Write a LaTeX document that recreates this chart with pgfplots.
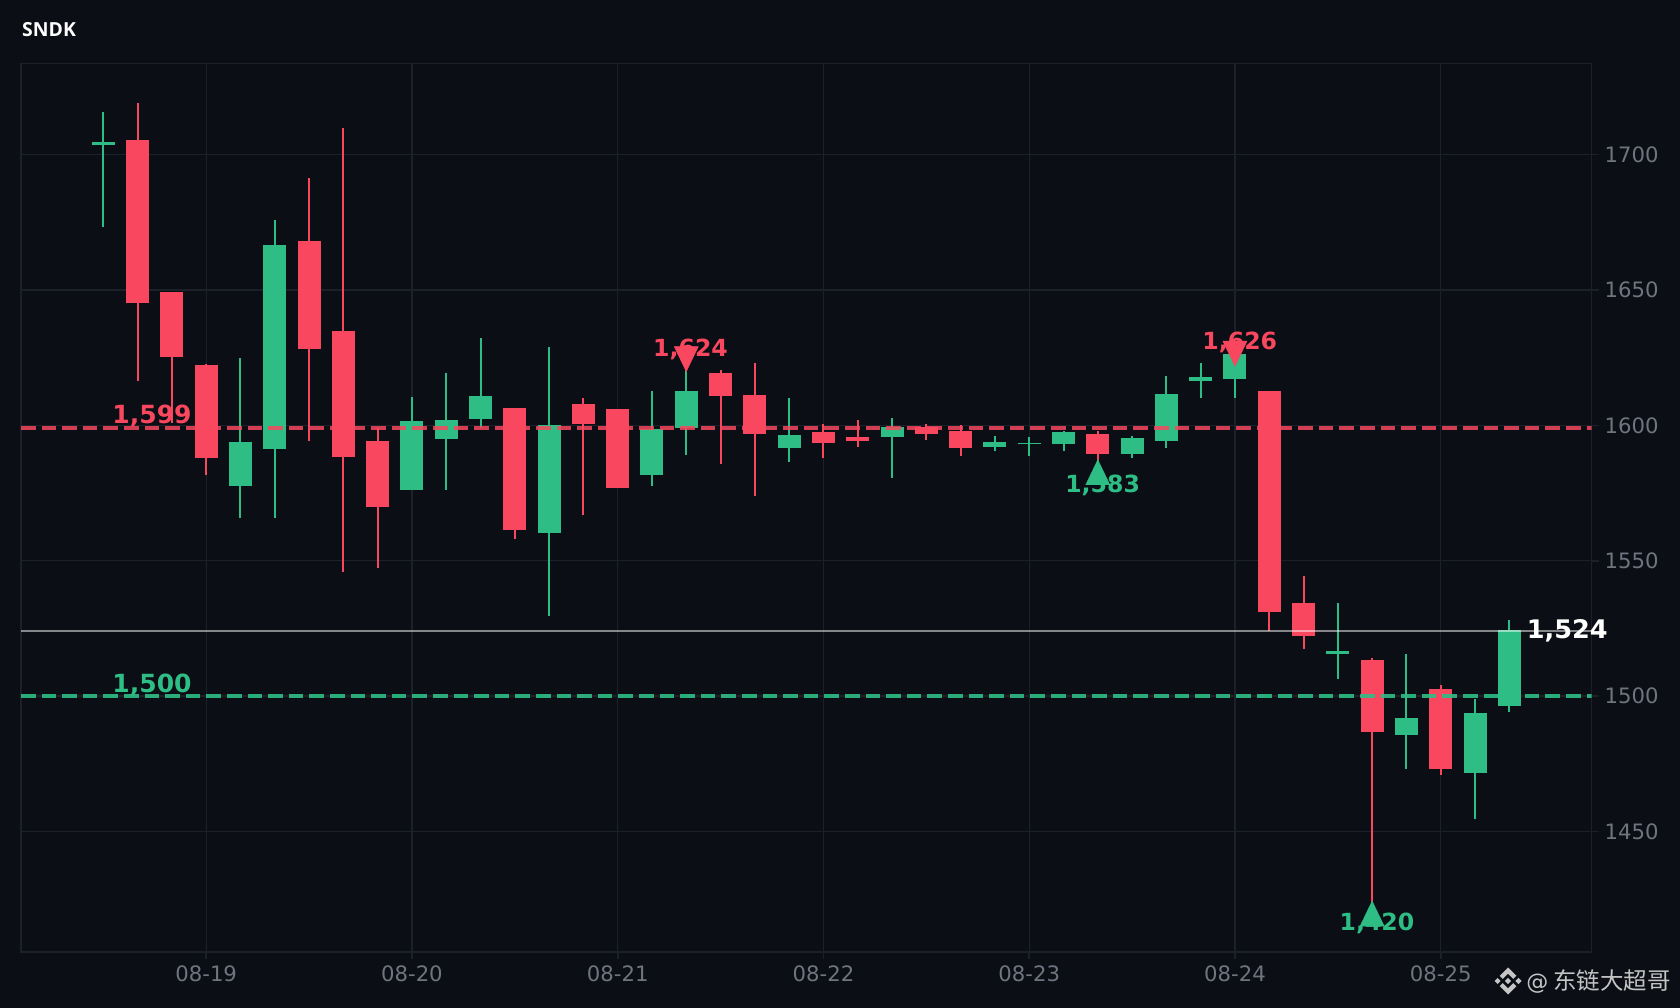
\documentclass[border=0pt]{standalone}
\usepackage{fontspec}
\usepackage{pgfplots}
\usepackage{pgfplotstable}
\pgfplotsset{compat=1.18}
\setmainfont{DejaVu Sans}
\newfontfamily\cjk{Noto Sans CJK SC}
\newfontfamily\noto{Open Sans}
\definecolor{bg}{HTML}{0B0E14}
\definecolor{gridc}{HTML}{1B2029}
\definecolor{redc}{HTML}{F8475F}
\definecolor{greenc}{HTML}{2EBD85}
\definecolor{tickc}{HTML}{6E7480}
\definecolor{wm}{HTML}{C4C4C4}
% i low high wicklow wickhigh
\pgfplotstableread{
i lo hi wl wh
1 1645.2 1705.3 1616.3 1719.1
2 1625.4 1649.1 1601.0 1649.1
3 1587.8 1622.2 1581.5 1622.7
6 1628.2 1668.1 1594.1 1691.5
7 1588.2 1634.9 1545.9 1709.7
8 1570.0 1594.1 1547.5 1599.0
12 1561.3 1606.4 1558.1 1606.4
14 1600.5 1608.0 1566.9 1610.0
15 1576.7 1606.0 1576.7 1606.0
18 1610.8 1619.5 1585.8 1620.5
19 1596.9 1611.2 1574.0 1623.0
21 1593.4 1597.7 1587.8 1600.5
22 1594.1 1595.7 1592.2 1602.0
24 1597.0 1599.3 1594.5 1600.5
25 1591.8 1598.0 1588.6 1600.0
29 1589.4 1597.0 1583.0 1598.0
34 1530.9 1612.7 1524.1 1612.7
35 1522.2 1534.4 1517.4 1544.3
37 1486.6 1513.4 1420.0 1514.2
39 1473.1 1502.8 1470.7 1504.0
}\redt
\pgfplotstableread{
i lo hi wl wh
0 1703.4 1704.6 1673.3 1715.6
4 1577.5 1593.8 1565.7 1625.0
5 1591.4 1666.5 1565.7 1676.0
9 1576.3 1601.7 1576.3 1610.4
10 1594.9 1602.0 1576.3 1619.5
11 1602.5 1610.8 1599.0 1632.1
13 1560.1 1600.1 1529.7 1629.0
16 1581.5 1598.5 1577.5 1612.7
17 1598.9 1612.7 1589.0 1624.0
20 1591.8 1596.5 1586.6 1610.0
23 1595.7 1599.3 1580.7 1602.8
26 1592.2 1593.8 1590.6 1596.0
27 1593.0 1593.6 1588.6 1595.7
28 1593.0 1597.7 1590.6 1598.0
30 1589.4 1595.3 1587.8 1596.0
31 1594.1 1611.6 1591.8 1618.3
32 1616.5 1617.7 1610.0 1623.0
33 1617.1 1626.2 1610.0 1626.2
36 1515.6 1516.8 1506.3 1534.4
38 1485.8 1492.1 1473.1 1515.4
40 1471.5 1493.7 1454.5 1498.8
41 1496.4 1524.5 1494.0 1528.0
}\greent
\begin{document}
\begin{tikzpicture}[x=1pt,y=1pt]
\useasboundingbox (0,0) rectangle (1680,1008);
\fill[bg] (0,0) rectangle (1680,1008);
\begin{axis}[
  at={(21.0pt,56.0pt)},anchor=south west,
  scale only axis,width=1570.6pt,height=888.3pt,
  xmin=-2.4,xmax=43.4,ymin=1405.5,ymax=1733.6,
  clip mode=individual,
  axis line style={draw=gridc,line width=1.6pt},
  grid=major,grid style={draw=gridc,line width=1.3pt},
  xtick={3,9,15,21,27,33,39},
  xticklabels={08-19,08-20,08-21,08-22,08-23,08-24,08-25},
  ytick={1450,1500,1550,1600,1650,1700},
  tick align=outside,major tick length=7pt,
  xtick pos=bottom,ytick pos=right,yticklabel pos=right,
  tick style={draw=gridc,line width=1.6pt},
  tick label style={font=\fontsize{21.2}{24}\selectfont,text=tickc},
  /pgf/number format/assume math mode=true,
  /pgf/number format/set thousands separator={},
  /pgf/number format/fixed,
  xticklabel style={yshift=-3.5pt},
  yticklabel style={xshift=2.5pt},
]
% wicks and bodies
\addplot[draw=none,mark=none,forget plot,error bars/.cd,y dir=both,y explicit,error mark=none,
  error bar style={draw=redc,line width=2pt,line cap=butt}]
  table[x=i,y=wl,y error plus expr=\thisrow{wh}-\thisrow{wl},y error minus expr=0]{\redt};
\addplot[draw=none,mark=none,forget plot,error bars/.cd,y dir=both,y explicit,error mark=none,
  error bar style={draw=greenc,line width=2pt,line cap=butt}]
  table[x=i,y=wl,y error plus expr=\thisrow{wh}-\thisrow{wl},y error minus expr=0]{\greent};
\addplot[draw=none,mark=none,forget plot,error bars/.cd,y dir=both,y explicit,error mark=none,
  error bar style={draw=redc,line width=23pt,line cap=butt}]
  table[x=i,y=lo,y error plus expr=\thisrow{hi}-\thisrow{lo},y error minus expr=0]{\redt};
\addplot[draw=none,mark=none,forget plot,error bars/.cd,y dir=both,y explicit,error mark=none,
  error bar style={draw=greenc,line width=23pt,line cap=butt}]
  table[x=i,y=lo,y error plus expr=\thisrow{hi}-\thisrow{lo},y error minus expr=0]{\greent};
% level lines
\addplot[draw=redc,draw opacity=.85,line width=3.6pt,dash pattern=on 14.5pt off 6.1pt,forget plot] coordinates {(-2.4,1599)(43.4,1599)};
\addplot[draw=greenc,draw opacity=.9,line width=3.6pt,dash pattern=on 14.5pt off 6.1pt,forget plot] coordinates {(-2.4,1500)(43.4,1500)};
\addplot[draw=white,draw opacity=.5,line width=1.8pt,forget plot] coordinates {(-2.4,1524)(43.4,1524)};
% labels
\newcommand{\lab}[2]{\fontsize{#1}{28}\selectfont\bfseries #2}
\node[text=redc,inner sep=0pt] at (axis cs:1.42,1603.3) {\lab{25}{1,599}};
\node[text=greenc,inner sep=0pt] at (axis cs:1.42,1504.2) {\lab{25}{1,500}};
\node[text=redc,inner sep=0pt] at (axis cs:17.125,1628.1) {\lab{23.6}{1,624}};
\node[text=redc,inner sep=0pt] at (axis cs:33.14,1630.6) {\lab{23.6}{1,626}};
\node[text=greenc,inner sep=0pt] at (axis cs:29.14,1578.0) {\lab{23.6}{1,583}};
\node[text=greenc,inner sep=0pt] at (axis cs:37.14,1416) {\lab{23.6}{1,420}};
\node[text=white,inner sep=0pt] at (axis cs:42.69,1524.3) {\lab{25.6}{1,524}};
% extreme markers
\addplot[only marks,mark=triangle*,mark size=13.9pt,color=greenc,forget plot,
  mark options={draw=none,fill=greenc,yshift=-5pt,yscale=1.2}] coordinates {(29,1583)(37,1420)};
\addplot[only marks,mark=triangle*,mark size=13.9pt,color=redc,forget plot,
  mark options={draw=none,fill=redc,yshift=5.5pt,yscale=1.2,rotate=180}] coordinates {(17,1624)(33,1626)};
\end{axis}
\node[anchor=west,inner sep=0pt,text=white] at (22pt,978pt) {\noto\fontsize{19.4}{22}\selectfont\bfseries SNDK};
\node[anchor=east,inner sep=0pt,text=wm] at (1671pt,27pt) {\fontsize{22}{26}\selectfont @\hspace{5pt}{\cjk\fontsize{23.5}{26}\selectfont 东链大超哥}};
\begin{scope}[shift={(1508pt,27pt)},x=.2133pt,y=.2133pt]
\fill[wm] (-24.57,10.1)--(0,34.66)--(24.6,10.08)--(38.9,24.38)--(0,63.3)--(-38.88,24.4)--cycle;
\fill[wm] (-24.57,-10.1)--(0,-34.66)--(24.6,-10.08)--(38.9,-24.38)--(0,-63.3)--(-38.88,-24.4)--cycle;
\fill[wm] (-63.3,0)--(-49,14.3)--(-34.7,0)--(-49,-14.3)--cycle;
\fill[wm] (63.3,0)--(49,14.3)--(34.7,0)--(49,-14.3)--cycle;
\fill[wm] (-14.5,0)--(0,14.5)--(14.5,0)--(0,-14.5)--cycle;
\end{scope}
\end{tikzpicture}
\end{document}
